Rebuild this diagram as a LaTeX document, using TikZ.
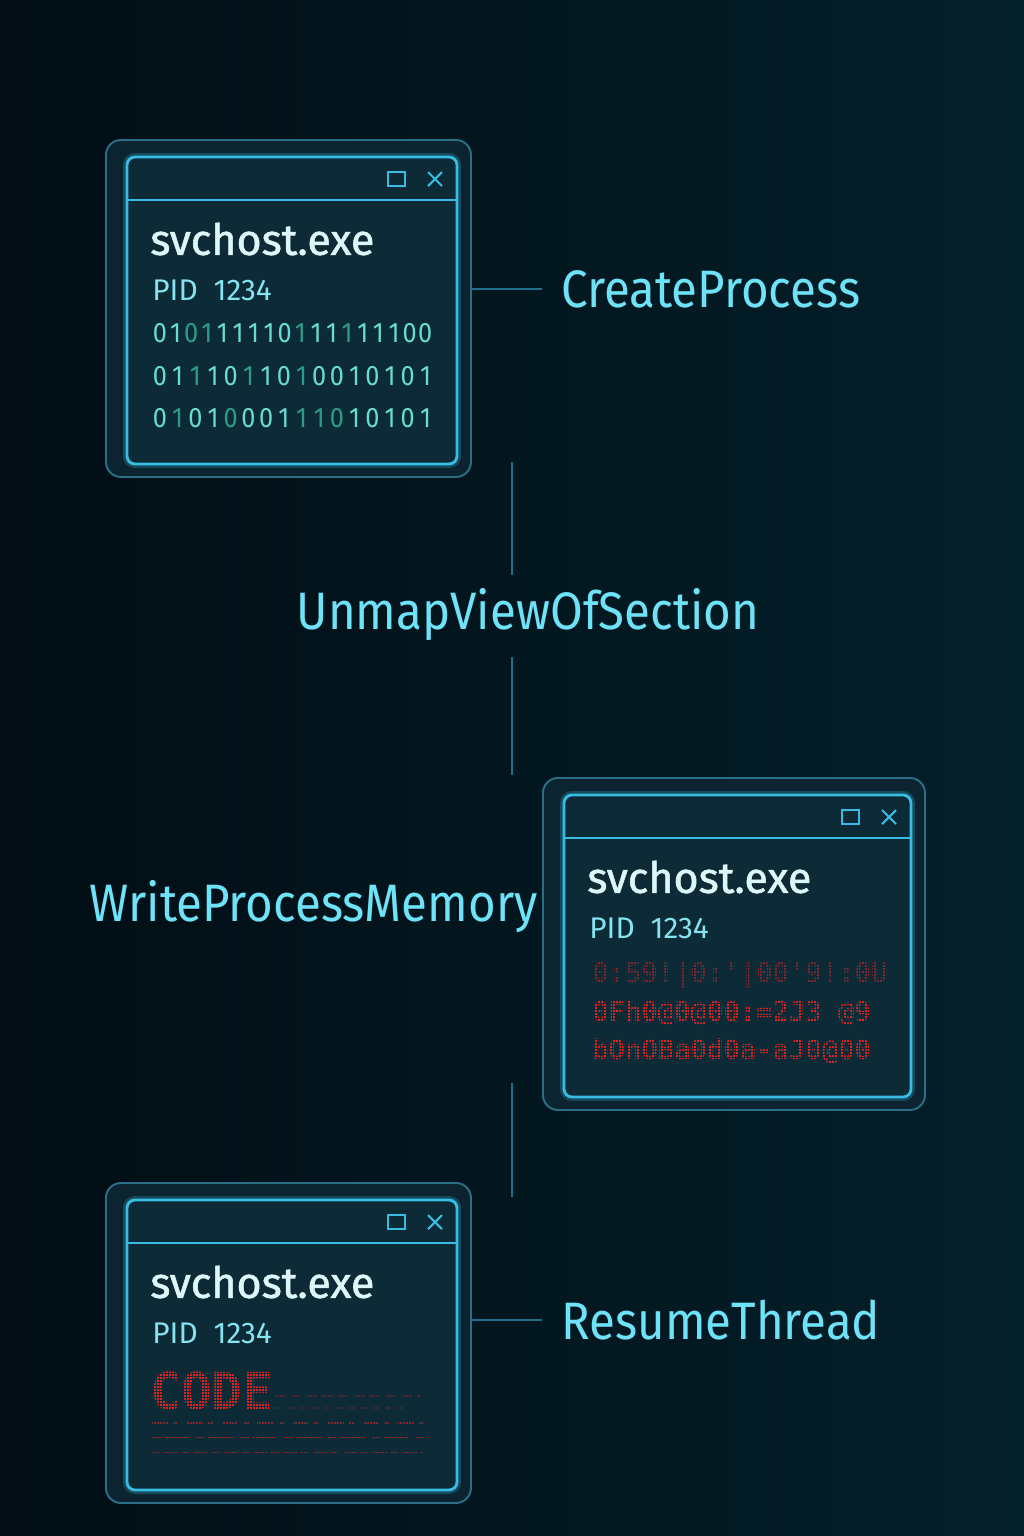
\documentclass[tikz,border=0pt]{standalone}
\usepackage{fontspec}
\setmainfont{Fira Sans}
\newfontfamily\apifont{Fira Sans}[FakeStretch=0.9]
\newfontfamily\exefont{Fira Sans}[FakeBold=1.3]
\newfontfamily\codefont{DejaVu Sans Mono}
\usetikzlibrary{positioning}

\definecolor{bgleft}{HTML}{020D14}
\definecolor{bgright}{HTML}{04202A}
\definecolor{framefill}{HTML}{0B2430}
\definecolor{frameline}{HTML}{2B6F86}
\definecolor{winfill}{HTML}{0D2A37}
\definecolor{winline}{HTML}{38BCE4}
\definecolor{exetext}{HTML}{DDF6F8}
\definecolor{pidtext}{HTML}{86E3F0}
\definecolor{bitn}{HTML}{66DCD2}
\definecolor{bitd}{HTML}{2C9C88}
\definecolor{apitext}{HTML}{6EE2F7}
\definecolor{linkline}{HTML}{1F6E8A}
\definecolor{codered}{HTML}{E02424}

% one process window: name, x, y, width, height (pixels)
\newcommand{\procwin}[5]{%
  \begin{scope}[shift={(#2,#3)}]
    \node[frame, minimum width=#4*0.02cm, minimum height=#5*0.02cm] (#1) at (0,0) {};
    \draw[win] (22,18) rectangle (#4-13,#5-12);
    \draw[winline, line width=1pt] (22,61) -- (#4-13,61);
    \draw[icon] (#4-82,33) rectangle (#4-65,47);
    \draw[icon] (#4-42,33) -- (#4-28,47) (#4-42,47) -- (#4-28,33);
    \node[exename] (#1-exe) at (45,100) {svchost.exe};
    \node[pidname] (#1-pid) at (47,151) {PID\ \ 1234};
  \end{scope}}

\begin{document}
\begin{tikzpicture}[x=0.02cm, y=-0.02cm,
    frame/.style={draw=frameline, line width=1.1pt, fill=framefill, rounded corners=0.3cm,
      anchor=north west, inner sep=0pt},
    win/.style={draw=winline, line width=1.6pt, fill=winfill, rounded corners=0.16cm,
      preaction={draw=winline, line width=4.5pt, draw opacity=0.25}},
    icon/.style={draw=winline, line width=1.2pt},
    exename/.style={anchor=west, inner sep=0pt, text=exetext, font=\exefont\fontsize{24.5}{24.5}\selectfont},
    pidname/.style={anchor=west, inner sep=0pt, text=pidtext, font=\fontsize{17}{17}\selectfont},
    bit/.style={inner sep=0pt, font=\apifont\fontsize{16}{16}\selectfont},
    apicall/.style={anchor=west, inner xsep=0.38cm, inner ysep=0pt, text=apitext,
      font=\apifont\fontsize{30}{30}\selectfont},
    link/.style={draw=linkline, line width=0.9pt},
    garble/.style={anchor=west, inner sep=0pt, text=codered, font=\codefont\bfseries\fontsize{15.5}{15.5}\selectfont},
    dots/.style={draw=winfill, line width=0.02cm}]

  \shade[left color=bgleft, right color=bgright] (0,0) rectangle (1024,1536);
  \useasboundingbox (0,0) rectangle (1024,1536);

  % windows
  \procwin{win1}{105}{139}{365}{337}
  \procwin{win2}{542}{777}{382}{332}
  \procwin{win3}{105}{1182}{365}{320}

  % binary in the first window
  \begin{scope}[shift={(105,139)}]
    \foreach \b/\c [count=\i] in {0/n,1/n,0/d,1/d,1/n,1/n,1/n,1/n,0/n,1/d,1/n,1/n,1/d,1/n,1/n,1/n,0/n,0/n}
      \node[bit, text=bit\c] (r1-\i) at (55+15.6*\i-15.6,194) {\b};
    \foreach \b/\c [count=\i] in {0/n,1/n,1/d,1/n,0/n,1/d,1/n,0/n,1/d,0/n,0/n,1/n,0/n,1/n,0/n,1/n}
      \node[bit, text=bit\c] (r2-\i) at (55+17.7*\i-17.7,237) {\b};
    \foreach \b/\c [count=\i] in {0/n,1/d,0/n,1/n,0/d,0/n,0/n,1/n,1/d,1/d,0/d,1/n,0/n,1/n,0/n,1/n}
      \node[bit, text=bit\c] (r3-\i) at (55+17.7*\i-17.7,279) {\b};
  \end{scope}

  % overwritten memory in the second window
  \begin{scope}[shift={(542,777)}]
    \node[garble, opacity=0.55] (g1) at (50,198) {0:59!|0:'|00'9!:0U};
    \node[garble] (g2) at (50,236) {0Fh0@0@00:=2J3 @9};
    \node[garble] (g3) at (50,274) {bOnOBa0d0a-aJ0@00};
    \foreach \yy in {184,187,...,292} \draw[dots] (46,\yy) -- (346,\yy);
    \foreach \xx in {46,49,...,346} \draw[dots] (\xx,184) -- (\xx,292);
  \end{scope}

  % injected code in the third window
  \begin{scope}[shift={(105,1182)}]
    \node[garble, font=\codefont\bfseries\fontsize{29}{29}\selectfont] (code) at (45,209) {CODE};
    \draw[codered, line width=2pt, dash pattern=on 6pt off 3pt, opacity=0.35] (170,214) -- (315,214);
    \draw[codered, line width=1.5pt, dash pattern=on 3pt off 4pt, opacity=0.3] (170,226) -- (305,226);
    \draw[codered, line width=1.6pt, dash pattern=on 9pt off 3pt on 3pt off 5pt, opacity=0.55] (47,241) -- (318,241);
    \draw[codered, line width=1.6pt, dash pattern=on 5pt off 2pt on 14pt off 4pt, opacity=0.75] (47,255) -- (325,255);
    \draw[codered, line width=1.6pt, dash pattern=on 4pt off 3pt on 8pt off 2pt, opacity=0.6] (47,270) -- (318,270);
    \foreach \yy in {188,191,...,280} \draw[dots] (42,\yy) -- (330,\yy);
    \foreach \xx in {42,45,...,330} \draw[dots] (\xx,188) -- (\xx,280);
  \end{scope}

  % api calls
  \node[apicall] (create) at (542,289) {CreateProcess};
  \node[apicall, anchor=center] (unmap) at (528,615) {UnmapViewOfSection};
  \node[apicall, anchor=east] (write) at (557,907) {WriteProcessMemory};
  \node[apicall] (resume) at (542,1320) {ResumeThread};

  % connectors
  \draw[link] (create.west -| win1.east) -- (create.west);
  \draw[link] (resume.west -| win3.east) -- (resume.west);
  \coordinate (t1) at (512,462);
  \coordinate (t2) at (512,575);
  \coordinate (t3) at (512,657);
  \coordinate (t4) at (512,775);
  \coordinate (t5) at (512,1083);
  \coordinate (t6) at (512,1197);
  \draw[link, line width=0.6pt] (t1) -- (t2) (t3) -- (t4) (t5) -- (t6);
\end{tikzpicture}
\end{document}
